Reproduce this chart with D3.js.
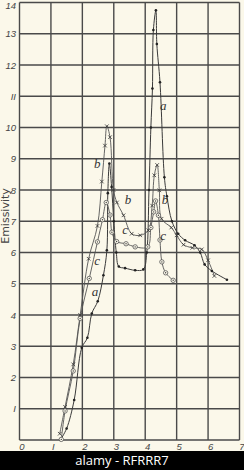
<!DOCTYPE html>
<html>
<head>
<meta charset="utf-8">
<script src="https://cdn.jsdelivr.net/npm/d3@7"></script>
<style>
  html, body { margin: 0; padding: 0; background: #fbf8ea; }
  svg { display: block; }
</style>
</head>
<body>
<div id="chart"></div>
<script>
const xTicks = [0, 1, 2, 3, 4, 5, 6, 7]
const yTicks = [0, 1, 2, 3, 4, 5, 6, 7, 8, 9, 10, 11, 12, 13, 14]
const yTickLabels = ['', 'I', '2', '3', '4', '5', '6', '7', '8', '9', '10', 'II', '12', '13', '14']

// curve a (dots)
const seriesA = [
  [1.3, 0.0], [1.5, 0.37], [1.74, 1.28], [1.98, 2.95], [2.16, 3.27], [2.3, 4.05],
  [2.49, 4.44], [2.67, 5.27], [2.78, 6.07], [2.81, 7.9], [2.86, 8.85], [2.93, 8.1],
  [3.0, 7.0], [3.08, 6.0], [3.16, 5.55], [3.36, 5.5], [3.68, 5.43], [3.94, 5.46],
  [4.05, 6.0], [4.12, 8.0], [4.18, 10.0], [4.23, 11.25], [4.26, 13.12], [4.34, 13.75],
  [4.37, 12.67], [4.47, 11.45], [4.61, 8.41], [4.69, 7.8], [4.85, 7.0], [5.05, 6.6],
  [5.27, 6.39], [5.57, 6.23], [5.75, 6.0], [5.89, 5.62], [6.12, 5.41], [6.6, 5.13]
]
// curve b (crosses)
const seriesB = [
  [1.28, 0.2], [1.45, 1.06], [1.71, 2.42], [1.93, 4.0], [2.2, 5.8], [2.48, 6.85],
  [2.62, 8.27], [2.72, 9.42], [2.78, 10.04], [2.88, 9.69], [2.99, 8.0], [3.1, 7.6],
  [3.31, 7.19], [3.57, 6.6], [3.84, 6.55], [4.1, 6.71], [4.22, 7.5], [4.29, 8.47],
  [4.38, 8.8], [4.45, 7.99], [4.52, 7.08], [4.83, 6.8], [5.0, 6.55], [5.22, 6.25],
  [5.5, 6.15], [5.8, 6.1], [6.0, 5.75], [6.2, 5.25]
]
// curve c (circles)
const seriesC = [
  [1.33, 0.02], [1.45, 0.93], [1.71, 2.21], [1.93, 3.89], [2.22, 5.17], [2.48, 6.34],
  [2.64, 7.05], [2.76, 7.6], [2.88, 7.2], [2.94, 6.65], [3.09, 6.35], [3.39, 6.28],
  [3.68, 6.18], [4.08, 6.18], [4.18, 6.8], [4.27, 7.3], [4.33, 7.65], [4.42, 7.19],
  [4.47, 6.4], [4.53, 5.7], [4.65, 5.35], [4.89, 5.11]
]
const curveLabels = [
  { text: 'a', x: 4.57, y: 10.55 }, { text: 'a', x: 2.4, y: 4.6 },
  { text: 'b', x: 2.47, y: 8.7 }, { text: 'b', x: 3.45, y: 7.55 }, { text: 'b', x: 4.63, y: 7.55 },
  { text: 'c', x: 2.47, y: 5.6 }, { text: 'c', x: 3.36, y: 6.6 }, { text: 'c', x: 4.57, y: 6.4 }
]

const W = 244
const H = 470
const ink = '#3a3a3a'

const svg = d3.select('#chart').append('svg')
  .attr('width', W)
  .attr('height', H)

svg.append('rect').attr('width', W).attr('height', H).attr('fill', '#fbf8ea')

const x = d3.scaleLinear().domain([0, 7]).range([19.5, 239.5])
const y = d3.scaleLinear().domain([0, 14]).range([440, 2.5])

// grid
svg.append('g').selectAll('line.v')
  .data(xTicks)
  .join('line')
  .attr('x1', d => x(d)).attr('x2', d => x(d))
  .attr('y1', y(0)).attr('y2', y(14))
  .attr('stroke', '#4a4a4a').attr('stroke-width', 1.4)

svg.append('g').selectAll('line.h')
  .data(yTicks)
  .join('line')
  .attr('x1', x(0)).attr('x2', x(7))
  .attr('y1', d => y(d)).attr('y2', d => y(d))
  .attr('stroke', '#4a4a4a').attr('stroke-width', 1.4)

// tick labels (top one nudged down so it stays inside the page)
svg.append('g').selectAll('text')
  .data(yTicks)
  .join('text')
  .attr('x', 16)
  .attr('y', d => Math.max(y(d) + 3.5, 9))
  .attr('text-anchor', 'end')
  .attr('font-family', 'Liberation Sans, sans-serif')
  .attr('font-style', 'italic')
  .attr('font-size', 9.5)
  .attr('fill', '#444')
  .text((d, i) => yTickLabels[i])

svg.append('g').selectAll('text')
  .data(xTicks)
  .join('text')
  .attr('x', d => x(d) + 2.5)
  .attr('y', 450)
  .attr('text-anchor', 'middle')
  .attr('font-family', 'Liberation Sans, sans-serif')
  .attr('font-style', 'italic')
  .attr('font-size', 9.5)
  .attr('fill', '#444')
  .text(d => d === 1 ? 'I' : d)

// axis title
svg.append('text')
  .attr('transform', 'translate(9,216) rotate(-90)')
  .attr('text-anchor', 'middle')
  .attr('font-family', 'DejaVu Sans, sans-serif')
  .attr('font-size', 11)
  .attr('fill', '#444')
  .text('Emissivity')

const line = d3.line()
  .x(d => x(d[0]))
  .y(d => y(d[1]))
  .curve(d3.curveCatmullRom.alpha(0.5))

const plot = svg.append('g')

plot.append('path').datum(seriesA)
  .attr('d', line).attr('fill', 'none').attr('stroke', ink).attr('stroke-width', 1)
plot.append('path').datum(seriesB)
  .attr('d', line).attr('fill', 'none').attr('stroke', '#555').attr('stroke-width', 0.9)
plot.append('path').datum(seriesC)
  .attr('d', line).attr('fill', 'none').attr('stroke', '#555').attr('stroke-width', 0.9)

// markers
plot.append('g').selectAll('circle')
  .data(seriesA)
  .join('circle')
  .attr('cx', d => x(d[0])).attr('cy', d => y(d[1]))
  .attr('r', 1.3).attr('fill', '#222')

plot.append('g').selectAll('path')
  .data(seriesB)
  .join('path')
  .attr('d', d => {
    const cx = x(d[0])
    const cy = y(d[1])
    return `M${cx - 1.8},${cy - 1.8}L${cx + 1.8},${cy + 1.8}M${cx - 1.8},${cy + 1.8}L${cx + 1.8},${cy - 1.8}`
  })
  .attr('stroke', '#333').attr('stroke-width', 0.8)

const cMarks = plot.append('g').selectAll('g')
  .data(seriesC)
  .join('g')
  .attr('transform', d => `translate(${x(d[0])},${y(d[1])})`)
cMarks.append('circle').attr('r', 2.2).attr('fill', '#fbf8ea').attr('stroke', '#555').attr('stroke-width', 0.8)
cMarks.append('circle').attr('r', 0.7).attr('fill', '#444')

// curve letters
plot.append('g').selectAll('text')
  .data(curveLabels)
  .join('text')
  .attr('x', d => x(d.x))
  .attr('y', d => y(d.y))
  .attr('text-anchor', 'middle')
  .attr('font-family', 'Liberation Serif, serif')
  .attr('font-style', 'italic')
  .attr('font-size', 13)
  .attr('fill', '#333')
  .text(d => d.text)

// bottom banner
svg.append('rect')
  .attr('x', 0).attr('y', 451).attr('width', W).attr('height', H - 451)
  .attr('fill', '#000')
svg.append('text')
  .attr('x', 122).attr('y', 465)
  .attr('text-anchor', 'middle')
  .attr('font-family', 'Open Sans, sans-serif')
  .attr('font-size', 13)
  .attr('fill', '#fff')
  .text('alamy - RFRRR7')
</script>
</body>
</html>
